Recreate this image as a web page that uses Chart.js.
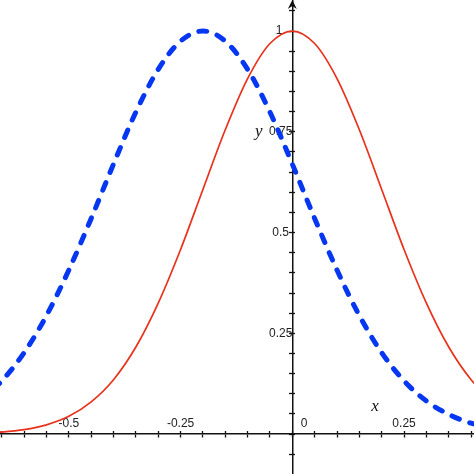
<!DOCTYPE html>
<html>
<head>
<meta charset="utf-8">
<script src="https://cdn.jsdelivr.net/npm/chart.js@4.4.0/dist/chart.umd.min.js"></script>
<style>
html, body { margin: 0; padding: 0; background: #fff; }
#wrap { width: 474px; height: 474px; }
</style>
</head>
<body>
<div id="wrap"><canvas id="chart"></canvas></div>
<script>
const xs = [-0.70, -0.65, -0.60, -0.55, -0.50, -0.45, -0.40, -0.35, -0.30, -0.25, -0.20, -0.15,
            -0.10, -0.05, 0, 0.05, 0.10, 0.15, 0.20, 0.25, 0.30, 0.35, 0.40, 0.45];
// red solid curve (peak at x = 0)
const redCurve = [0.002, 0.005, 0.011, 0.023, 0.044, 0.080, 0.135, 0.216, 0.325, 0.458, 0.607, 0.755,
                  0.882, 0.969, 1.000, 0.969, 0.882, 0.755, 0.607, 0.458, 0.325, 0.216, 0.135, 0.080];
// blue dashed curve (peak at x = -0.2)
const blueCurve = [0.082, 0.132, 0.202, 0.294, 0.407, 0.535, 0.670, 0.799, 0.905, 0.975, 1.000, 0.975,
                   0.905, 0.799, 0.670, 0.535, 0.407, 0.294, 0.202, 0.132, 0.082, 0.049, 0.027, 0.015];

const xRange = [-0.654, 0.4065];
const yRange = [-0.099, 1.077];
const tickStep = 0.05;
const xLabelValues = [-0.5, -0.25, 0, 0.25];
const xLabelTexts = ['-0.5', '-0.25', '       0', '0.25'];
const yLabelValues = [0.25, 0.5, 0.75, 1];
const yLabelTexts = ['0.25', '0.5 ', '0.75', '1   '];
const xTitleAt = [0.185, 0.068];
const yTitleAt = [-0.075, 0.75];

function toPoints(vals) {
  return xs.map((x, i) => ({x: x, y: vals[i]}));
}

function minorTicks(range) {
  let out = [];
  let start = Math.ceil(range[0] / tickStep - 1e-9);
  let end = Math.floor(range[1] / tickStep + 1e-9);
  for (let i = start; i <= end; i++) out.push({value: Math.round(i * tickStep * 1000) / 1000});
  return out;
}

function labelFor(values, texts) {
  return function (v) {
    for (let i = 0; i < values.length; i++)
      if (Math.abs(values[i] - v) < 1e-6) return texts[i];
    return '';
  };
}

// axes sit inside the plot, so they should not eat into the chart area
function noPadding(s) {
  s.paddingTop = 0; s.paddingBottom = 0; s.paddingLeft = 0; s.paddingRight = 0;
}

const axisColor = '#111';
const tickFont = {family: '"Liberation Sans", Arial, sans-serif', size: 12};

const axisExtras = {
  id: 'axisExtras',
  beforeDatasetsDraw(chart) {
    const {ctx, scales} = chart;
    const x0 = scales.x.getPixelForValue(0);
    ctx.save();
    ctx.fillStyle = axisColor;
    ctx.beginPath();
    ctx.moveTo(x0, 0);
    ctx.lineTo(x0 + 4.5, 9);
    ctx.lineTo(x0, 6);
    ctx.lineTo(x0 - 4.5, 9);
    ctx.closePath();
    ctx.fill();
    ctx.font = 'italic 17px "Liberation Serif", "Times New Roman", serif';
    ctx.textAlign = 'center';
    ctx.textBaseline = 'middle';
    ctx.fillText('x', scales.x.getPixelForValue(xTitleAt[0]), scales.y.getPixelForValue(xTitleAt[1]));
    ctx.fillText('y', scales.x.getPixelForValue(yTitleAt[0]), scales.y.getPixelForValue(yTitleAt[1]));
    ctx.restore();
  }
};

const data = {
  datasets: [{
    label: 'red',
    data: toPoints(redCurve),
    borderColor: '#e8321c',
    borderWidth: 1.7,
    pointRadius: 0,
    cubicInterpolationMode: 'monotone'
  }, {
    label: 'blue',
    data: toPoints(blueCurve),
    borderColor: '#0537f2',
    borderWidth: 5,
    borderDash: [8, 11],
    borderCapStyle: 'round',
    pointRadius: 0,
    cubicInterpolationMode: 'monotone'
  }]
};

const config = {
  type: 'line',
  data: data,
  options: {
    responsive: true,
    maintainAspectRatio: false,
    animation: false,
    layout: {padding: 0},
    plugins: {legend: {display: false}, tooltip: {enabled: false}},
    scales: {
      x: {
        type: 'linear', min: xRange[0], max: xRange[1],
        position: {y: 0},
        afterBuildTicks: s => { s.ticks = minorTicks(xRange); },
        afterFit: noPadding,
        grid: {drawOnChartArea: false, tickLength: 3, tickColor: axisColor, tickWidth: 1.3},
        border: {color: axisColor, width: 1.5},
        ticks: {callback: labelFor(xLabelValues, xLabelTexts), padding: -21, maxRotation: 0,
                autoSkip: false, color: '#222', font: tickFont}
      },
      x2: {
        type: 'linear', min: xRange[0], max: xRange[1],
        position: {y: 0},
        afterBuildTicks: s => { s.ticks = minorTicks(xRange); },
        afterFit: noPadding,
        grid: {drawOnChartArea: false, tickLength: -3, tickColor: axisColor, tickWidth: 1.3},
        border: {display: false},
        ticks: {display: false}
      },
      y: {
        type: 'linear', min: yRange[0], max: yRange[1],
        position: {x: 0},
        afterBuildTicks: s => { s.ticks = minorTicks(yRange); },
        afterFit: noPadding,
        grid: {drawOnChartArea: false, tickLength: 3, tickColor: axisColor, tickWidth: 1.3},
        border: {color: axisColor, width: 1.5},
        ticks: {callback: labelFor(yLabelValues, yLabelTexts), autoSkip: false, color: '#222', font: tickFont}
      },
      y2: {
        type: 'linear', min: yRange[0], max: yRange[1],
        position: {x: 0},
        afterBuildTicks: s => { s.ticks = minorTicks(yRange); },
        afterFit: noPadding,
        grid: {drawOnChartArea: false, tickLength: -3, tickColor: axisColor, tickWidth: 1.3},
        border: {display: false},
        ticks: {display: false}
      }
    }
  },
  plugins: [axisExtras]
};

new Chart(document.getElementById('chart').getContext('2d'), config);
</script>
</body>
</html>
